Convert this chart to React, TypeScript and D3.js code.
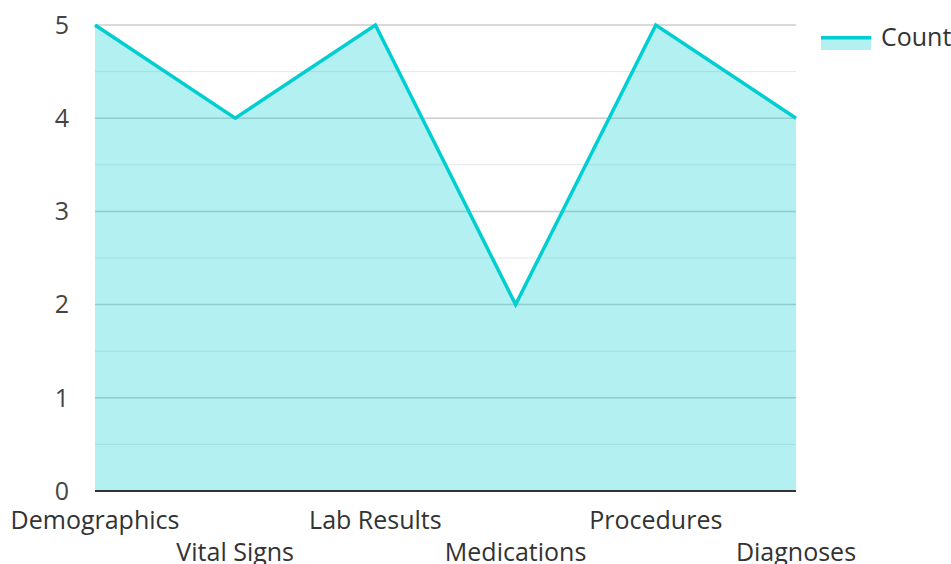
import React, { useEffect, useRef } from 'react';
import * as d3 from 'd3';

const categories = ['Demographics', 'Vital Signs', 'Lab Results', 'Medications', 'Procedures', 'Diagnoses'];
const counts = [5, 4, 5, 2, 5, 4];
const yTicks = [0, 1, 2, 3, 4, 5];
const seriesName = 'Count';

const W = 951;
const H = 564;
const LINE = '#00ced1';
const FILL = 'rgba(0, 206, 209, 0.3)';
const FONT = '"Open Sans", "Noto Sans", sans-serif';

const App = () => {
  const ref = useRef<SVGSVGElement>(null);

  useEffect(() => {
    const svg = d3.select(ref.current);
    svg.selectAll('*').remove();

    const margin = { top: 25, right: 155, bottom: 73, left: 95 };
    const innerW = W - margin.left - margin.right;
    const innerH = H - margin.top - margin.bottom;

    const g = svg.append('g').attr('transform', `translate(${margin.left},${margin.top})`);

    const x = d3.scalePoint<string>().domain(categories).range([0, innerW]);
    const y = d3.scaleLinear().domain([0, 5]).range([innerH, 0]);

    // minor grid (half units)
    g.append('g')
      .selectAll('line')
      .data(d3.range(0.5, 5, 1))
      .enter().append('line')
      .attr('x1', 0).attr('x2', innerW)
      .attr('y1', d => y(d)).attr('y2', d => y(d))
      .attr('stroke', '#e6e6e6').attr('stroke-width', 1);

    // major grid
    g.append('g')
      .selectAll('line')
      .data(yTicks.filter(t => t > 0))
      .enter().append('line')
      .attr('x1', 0).attr('x2', innerW)
      .attr('y1', d => y(d)).attr('y2', d => y(d))
      .attr('stroke', '#cccccc').attr('stroke-width', 1.5);

    const pts = categories.map((c, i) => ({ c, v: counts[i] }));

    const area = d3.area<{ c: string; v: number }>()
      .x(d => x(d.c)!)
      .y0(y(0))
      .y1(d => y(d.v));
    g.append('path').datum(pts).attr('d', area).attr('fill', FILL);

    const line = d3.line<{ c: string; v: number }>()
      .x(d => x(d.c)!)
      .y(d => y(d.v));
    g.append('path').datum(pts).attr('d', line)
      .attr('fill', 'none').attr('stroke', LINE).attr('stroke-width', 3.5);

    // x axis line
    g.append('line')
      .attr('x1', 0).attr('x2', innerW)
      .attr('y1', innerH).attr('y2', innerH)
      .attr('stroke', '#333').attr('stroke-width', 2);

    // y tick labels
    g.append('g')
      .selectAll('text')
      .data(yTicks)
      .enter().append('text')
      .attr('x', -33)
      .attr('y', d => y(d))
      .attr('dy', '0.35em')
      .attr('text-anchor', 'middle')
      .attr('font-family', FONT)
      .attr('font-size', 25)
      .attr('fill', '#444')
      .text(d => d);

    // x labels, staggered in two rows
    g.append('g')
      .selectAll('text')
      .data(categories)
      .enter().append('text')
      .attr('x', d => x(d)!)
      .attr('y', (d, i) => innerH + (i % 2 === 0 ? 38 : 70))
      .attr('text-anchor', 'middle')
      .attr('font-family', FONT)
      .attr('font-size', 25)
      .attr('fill', '#333')
      .text(d => d);

    // legend
    const lg = svg.append('g').attr('transform', `translate(${margin.left + innerW + 25},36)`);
    lg.append('rect').attr('x', 0).attr('y', 0).attr('width', 50).attr('height', 14).attr('fill', FILL);
    lg.append('line').attr('x1', 0).attr('x2', 50).attr('y1', 1.75).attr('y2', 1.75)
      .attr('stroke', LINE).attr('stroke-width', 3.5);
    lg.append('text')
      .attr('x', 60).attr('y', 10)
      .attr('font-family', FONT)
      .attr('font-size', 25)
      .attr('fill', '#333')
      .text(seriesName);
  }, []);

  return <svg ref={ref} width={W} height={H} style={{ position: 'absolute', left: 0, top: 0 }} />;
};

export default App;
